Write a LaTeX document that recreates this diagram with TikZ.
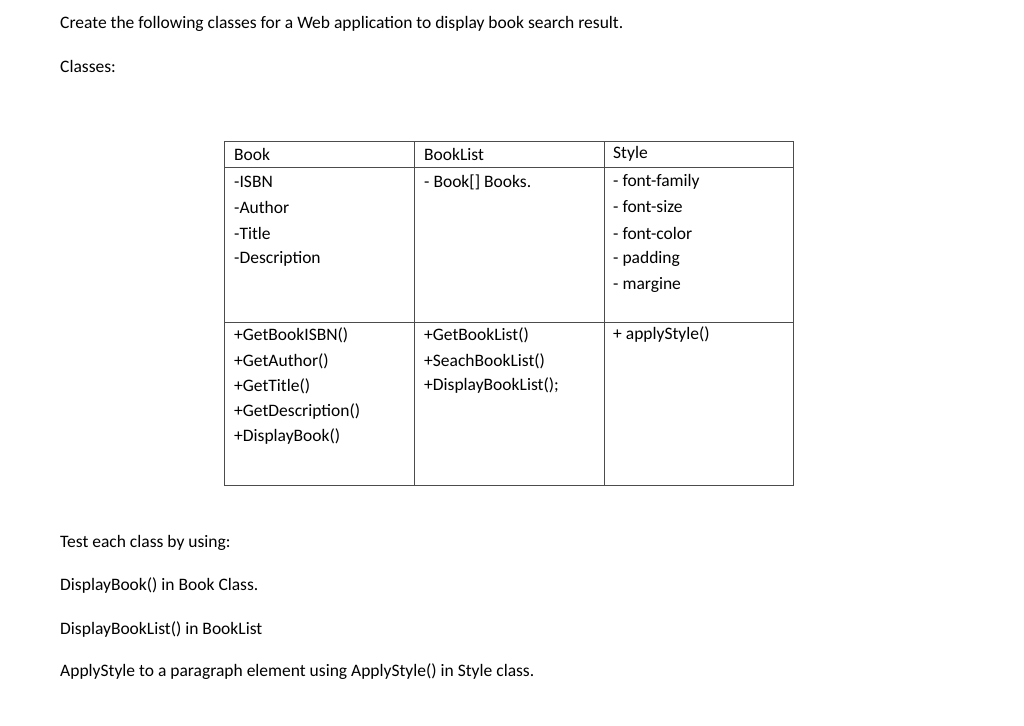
\documentclass[tikz,border=0pt]{standalone}
\usepackage{fontspec}
\setmainfont{Carlito}
\begin{document}
\begin{tikzpicture}[x=1pt,y=-1pt,
  t/.style={anchor=west,inner sep=0pt,font=\fontsize{17.5}{20}\selectfont},
  g/.style={draw=black!70,line width=0.8pt}]
\useasboundingbox (0,0) rectangle (1024,725);
\node[t] (h1) at (60,24) {Create the following classes for a Web application to display book search result.};
\node[t] (h2) at (60,66) {Classes:};
\draw[g] (224,141) rectangle (793,485);
\draw[g] (224,167) -- (793,167);
\draw[g] (224,322) -- (793,322);
\draw[g] (414,141) -- (414,485);
\draw[g] (604,141) -- (604,485);
% Book
\node[t] (b0) at (234,154) {Book};
\node[t] (b1) at (234,182) {-ISBN};
\node[t] (b2) at (234,207) {-Author};
\node[t] (b3) at (234,233) {-Title};
\node[t] (b4) at (234,259) {-Description};
\node[t] (b5) at (234,335) {+GetBookISBN()};
\node[t] (b6) at (234,361) {+GetAuthor()};
\node[t] (b7) at (234,386) {+GetTitle()};
\node[t] (b8) at (234,412) {+GetDescription()};
\node[t] (b9) at (234,437) {+DisplayBook()};
% BookList
\node[t] (l0) at (424,154) {BookList};
\node[t] (l1) at (424,182) {- Book[] Books.};
\node[t] (l2) at (424,335) {+GetBookList()};
\node[t] (l3) at (424,361) {+SeachBookList()};
\node[t] (l4) at (424,386) {+DisplayBookList();};
% Style
\node[t] (s0) at (613,154) {Style};
\node[t] (s1) at (613,182) {- font-family};
\node[t] (s2) at (613,207) {- font-size};
\node[t] (s3) at (613,233) {- font-color};
\node[t] (s4) at (613,259) {- padding};
\node[t] (s5) at (613,285) {- margine};
\node[t] (s6) at (613,335) {+ applyStyle()};
% footer
\node[t] (f1) at (60,543) {Test each class by using:};
\node[t] (f2) at (60,586) {DisplayBook() in Book Class.};
\node[t] (f3) at (60,629) {DisplayBookList() in BookList};
\node[t] (f4) at (60,672) {ApplyStyle to a paragraph element using ApplyStyle() in Style class.};
\end{tikzpicture}
\end{document}
